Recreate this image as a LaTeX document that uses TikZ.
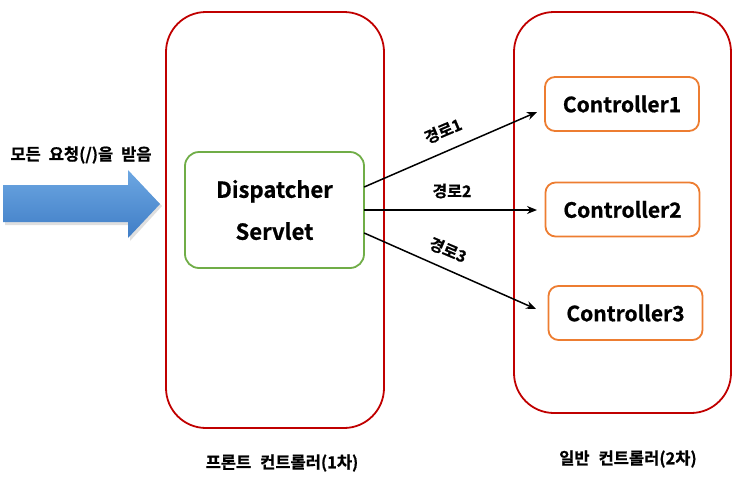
\documentclass[tikz,border=0pt]{standalone}
\usepackage{fontspec}
\setmainfont{Noto Sans CJK KR}[BoldFont={Noto Sans CJK KR Bold}]
\newfontfamily\krb{Noto Sans CJK KR Bold}[FakeBold=0.8]
\usetikzlibrary{arrows.meta}
\definecolor{bigred}{HTML}{C00000}
\definecolor{dsgreen}{HTML}{70AD47}
\definecolor{ctorange}{HTML}{ED7D31}
\definecolor{bluetop}{HTML}{6DA7E2}
\definecolor{bluebot}{HTML}{3F7DC6}
\tikzset{
  bigbox/.style={draw=bigred, line width=1.8pt, rounded corners=40pt},
  dsbox/.style={draw=dsgreen, line width=1.8pt, rounded corners=14pt},
  ctbox/.style={draw=ctorange, line width=1.8pt, rounded corners=10pt, minimum width=154pt, minimum height=54pt, font=\krb\fontsize{21}{24}\selectfont, inner sep=0pt},
  flow/.style={-{Stealth[length=10pt,width=8pt]}, line width=1.5pt, black},
  lbl/.style={font=\krb\fontsize{16}{18}\selectfont},
  captext/.style={font=\krb\fontsize{16.5}{20}\selectfont}
}
\begin{document}
\begin{tikzpicture}[x=1pt,y=1pt]
\useasboundingbox (0,0) rectangle (742,-480);
% big boxes
\draw[bigbox] (166,-12) rectangle (384,-428);
\draw[bigbox] (514,-12) rectangle (731,-413);
% dispatcher
\draw[dsbox] (185,-152) rectangle (364,-268);
\node (ds) at (274.5,-210) [minimum width=179pt, minimum height=116pt, inner sep=0pt, align=center, font=\krb\fontsize{22}{42}\selectfont] {Dispatcher\\Servlet};
% controllers
\node[ctbox] (c1) at (622,-104) {Controller1};
\node[ctbox] (c2) at (622.5,-209.5) {Controller2};
\node[ctbox] (c3) at (625.5,-313) {Controller3};
% blue arrow
\fill[black!25, opacity=0.5] (5,-188) -- (130,-188) -- (130,-173) -- (162,-206) -- (130,-241) -- (130,-225) -- (5,-225) -- cycle;
\shade[top color=bluetop, bottom color=bluebot] (3,-185) -- (128,-185) -- (128,-170) -- (160,-204) -- (128,-238) -- (128,-222) -- (3,-222) -- cycle;
\node[font=\krb\fontsize{16.5}{18}\selectfont] (req) at (81,-155) {모든\hspace{8pt}요청(/)을\hspace{8pt}받음};
% connectors
\coordinate (e1) at (537,-112);
\coordinate (e2) at (537,-210);
\coordinate (e3) at (536,-309);
\draw[flow] (ds.east |- 0,-187) -- (e1);
\draw[flow] (ds.east |- 0,-210) -- (e2);
\draw[flow] (ds.east |- 0,-233) -- (e3);
\node[lbl, rotate=23, inner sep=0pt] (l1) at (443,-131) {경로1};
\node[lbl, inner sep=0pt] (l2) at (452,-191) {경로2};
\node[lbl, rotate=-23, inner sep=0pt] (l3) at (448,-250) {경로3};
% captions
\node[captext] (cap1) at (282,-463) {프론트\hspace{9pt}컨트롤러(1차)};
\node[captext] (cap2) at (628,-459) {일반\hspace{9pt}컨트롤러(2차)};
\end{tikzpicture}
\end{document}
